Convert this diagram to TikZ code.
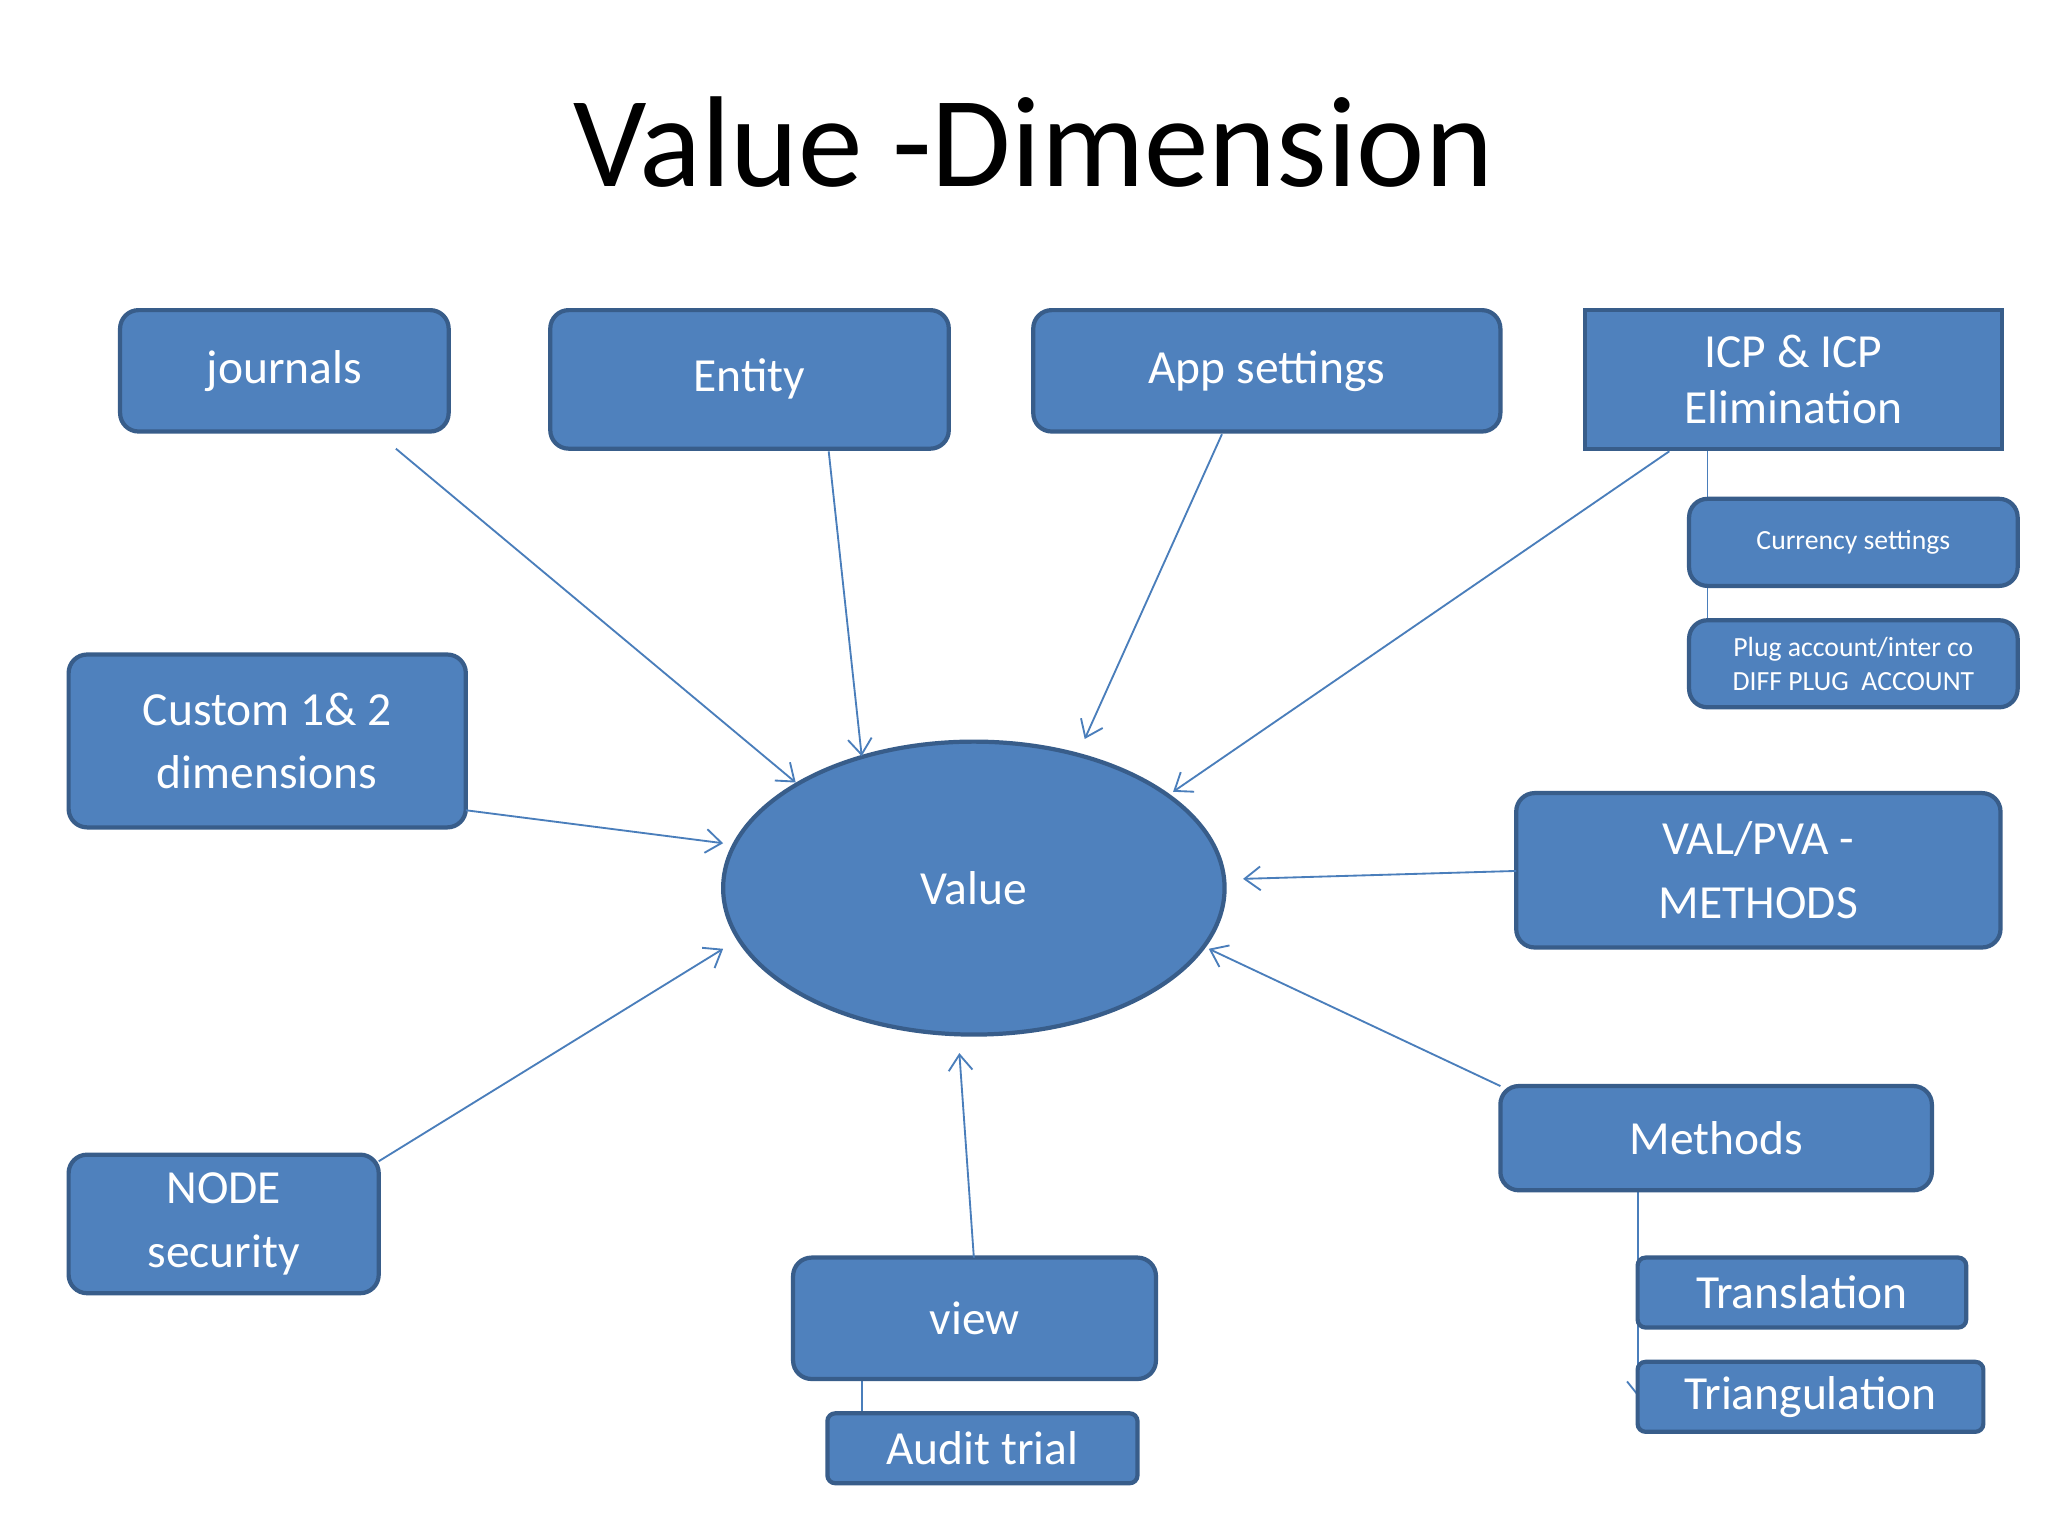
\documentclass[tikz,border=0pt]{standalone}
\usepackage{fontspec}
\setmainfont{Carlito}
\usetikzlibrary{shapes.geometric,arrows.meta}
\definecolor{bfill}{HTML}{4F81BD}
\definecolor{bdraw}{HTML}{385D8A}
\definecolor{lcol}{HTML}{4A7EBB}
\tikzset{
 box/.style={draw=bdraw,fill=bfill,line width=1.6pt,rounded corners=7pt,text=white,align=center,font=\fontsize{18}{21}\selectfont,inner sep=0pt},
 sbox/.style={box,font=\fontsize{10.5}{13}\selectfont},
 arr/.style={draw=lcol,line width=0.7pt,-{Straight Barb[length=6pt,width=9pt]}},
 ln/.style={draw=lcol,line width=0.7pt}
}
\begin{document}
\begin{tikzpicture}[x=0.5pt,y=-0.5pt]
\useasboundingbox[fill=white] (0,0) rectangle (1552,1164);
\node[font=\fontsize{49}{55}\selectfont] (title) at (783,108) {Value -Dimension};
% connector lines behind boxes
\coordinate (icpv1) at (1294,342); \coordinate (icpv2) at (1294,470);
\draw[ln] (icpv1) -- (icpv2);
\coordinate (vw1) at (653,1045); \coordinate (vw2) at (653,1071);
\draw[ln] (vw1) -- (vw2);
\coordinate (m1) at (1241,902); \coordinate (m2) at (1241,1058);
\draw[ln,-{Straight Barb[length=5pt,width=8pt]}] (m1) -- (m2);
\node[box,minimum width=124.5pt,minimum height=46pt] (journals) at (215.5,281) {journals};
\node[box,minimum width=151pt,minimum height=52.5pt] (entity) at (568,287.5) {Entity};
\node[box,minimum width=177pt,minimum height=46pt] (app) at (960,281) {App settings};
\node[box,rounded corners=0pt,minimum width=158pt,minimum height=52.5pt] (icp) at (1359,287.5) {ICP \& ICP\\Elimination};
\node[sbox,minimum width=124.5pt,minimum height=33pt] (cur) at (1404.5,411) {Currency settings};
\node[sbox,minimum width=124.5pt,minimum height=33pt] (plug) at (1404.5,503) {Plug account/inter co\\DIFF PLUG\ \ ACCOUNT};
\node[box,minimum width=150.5pt,minimum height=65.5pt,font=\fontsize{18}{24}\selectfont] (custom) at (202.5,561.5) {Custom 1\& 2\\dimensions};
\node[box,ellipse,minimum width=190pt,minimum height=111pt] (value) at (738,673) {Value};
\node[box,minimum width=183.5pt,minimum height=58.5pt,font=\fontsize{18}{24}\selectfont] (val) at (1332.5,659.5) {VAL/PVA -\\METHODS};
\node[box,minimum width=117.5pt,minimum height=52.5pt,font=\fontsize{18}{24}\selectfont] (nodesec) at (169.5,927.5) {NODE\\security};
\node[box,minimum width=137.5pt,minimum height=46pt] (view) at (738.5,999) {view};
\node[box,rounded corners=3pt,minimum width=117.5pt,minimum height=26.5pt] (audit) at (744.5,1097.5) {Audit trial};
\node[box,minimum width=163.5pt,minimum height=39.5pt] (methods) at (1300.5,862.5) {Methods};
\node[box,rounded corners=3pt,minimum width=124.5pt,minimum height=26.5pt] (trans) at (1365.5,979.5) {Translation};
\node[box,rounded corners=3pt,minimum width=131pt,minimum height=26.5pt] (tri) at (1372,1058.5) {Triangulation};
% arrows
\coordinate (a1) at (300,340); \coordinate (b1) at (603,593);
\coordinate (a2) at (628,342); \coordinate (b2) at (653,573);
\coordinate (a3) at (926,329); \coordinate (b3) at (822,560);
\coordinate (a4) at (1265,342); \coordinate (b4) at (889,600);
\coordinate (a5) at (353,614); \coordinate (b5) at (548,639);
\coordinate (a6) at (1149,660); \coordinate (b6) at (942,666);
\coordinate (a7) at (287,880); \coordinate (b7) at (548,719);
\coordinate (a8) at (1137,823); \coordinate (b8) at (916,719);
\coordinate (a9) at (738,953); \coordinate (b9) at (727,798);
\foreach \i in {1,...,9} {\draw[arr] (a\i) -- (b\i);}
\end{tikzpicture}
\end{document}
